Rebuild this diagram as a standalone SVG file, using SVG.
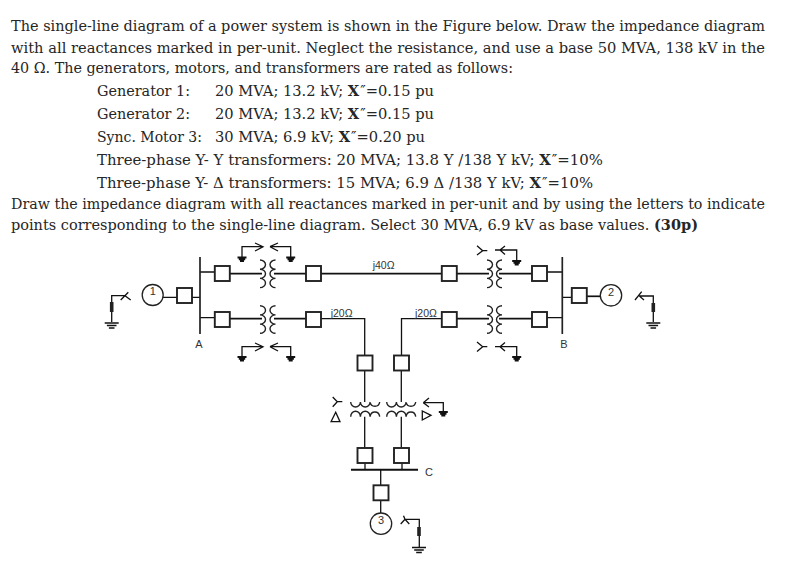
<svg xmlns="http://www.w3.org/2000/svg" width="807" height="565" viewBox="0 0 807 565">
<style>
.t{font-family:"DejaVu Serif","Liberation Serif",serif;font-size:14px;fill:#262626}
.t tspan.b{font-weight:bold}
.l{font-family:"Liberation Sans",Arial,sans-serif;font-size:10.5px;fill:#333}
.n{font-family:"Liberation Sans",Arial,sans-serif;font-size:11px;fill:#333;text-anchor:middle}
.w{fill:none;stroke:#111;stroke-width:1.7}
.s{fill:none;stroke:#111;stroke-width:1.3}
.bx{fill:#fff;stroke:#222;stroke-width:1.9}
.c{fill:#fff;stroke:#222;stroke-width:1.3}
.f{fill:none;stroke:#222;stroke-width:1.4}
.r{stroke:#222;stroke-width:3.6;fill:none}
</style>
<defs>
<rect id="box" class="bx" x="-7.500" y="-7.500" width="15" height="15"/>
<path id="coilL" class="f" d="M0,0a5.500,4.600 0 0 1 0,9.200a5.500,4.600 0 0 1 0,9.200a5.500,4.600 0 0 1 0,9.200"/>
<path id="coilR" class="f" d="M0,0a5.500,4.600 0 0 0 0,9.200a5.500,4.600 0 0 0 0,9.200a5.500,4.600 0 0 0 0,9.200"/>
<path id="coilU" class="f" d="M0,0a4.850,5 0 0 0 9.700,0a4.850,5 0 0 0 9.700,0a4.850,5 0 0 0 9.600,0"/>
<path id="coilD" class="f" d="M0,0a4.850,5.500 0 0 1 9.700,0a4.850,5.500 0 0 1 9.700,0a4.850,5.500 0 0 1 9.600,0"/>
<path id="gnd" d="M-4.500,0.500H4.500M-3.200,2.300H3.200M-2,4.100H2" fill="none" stroke="#111" stroke-width="1.8"/>
<path id="gndBig" d="M-7,0H7M-4.800,2.500H4.800M-2.800,5H2.800" fill="none" stroke="#111" stroke-width="1.7"/>
</defs>
<rect width="807" height="565" fill="#fff"/>

<g id="question-text">
<text class="t" x="11" y="31" textLength="754" lengthAdjust="spacingAndGlyphs">The single-line diagram of a power system is shown in the Figure below. Draw the impedance diagram</text>
<text class="t" x="11" y="52.500" textLength="754" lengthAdjust="spacingAndGlyphs">with all reactances marked in per-unit. Neglect the resistance, and use a base 50 MVA, 138 kV in the</text>
<text class="t" x="11" y="73" textLength="502" lengthAdjust="spacingAndGlyphs">40 Ω. The generators, motors, and transformers are rated as follows:</text>
<text class="t" x="97" y="96" textLength="93" lengthAdjust="spacingAndGlyphs">Generator 1:</text>
<text class="t" x="215" y="96" textLength="219" lengthAdjust="spacingAndGlyphs">20 MVA; 13.2 kV; <tspan class="b">X</tspan><tspan dx="1">″</tspan>=0.15 pu</text>
<text class="t" x="97" y="119" textLength="93" lengthAdjust="spacingAndGlyphs">Generator 2:</text>
<text class="t" x="215" y="119" textLength="219" lengthAdjust="spacingAndGlyphs">20 MVA; 13.2 kV; <tspan class="b">X</tspan><tspan dx="1">″</tspan>=0.15 pu</text>
<text class="t" x="97" y="142" textLength="105" lengthAdjust="spacingAndGlyphs">Sync. Motor 3:</text>
<text class="t" x="215" y="142" textLength="210" lengthAdjust="spacingAndGlyphs">30 MVA; 6.9 kV; <tspan class="b">X</tspan><tspan dx="1">″</tspan>=0.20 pu</text>
<text class="t" x="97" y="165" textLength="506" lengthAdjust="spacingAndGlyphs">Three-phase Y- Y transformers:  20 MVA; 13.8 Y /138 Y kV; <tspan class="b">X</tspan><tspan dx="1">″</tspan>=10%</text>
<text class="t" x="97" y="188" textLength="496" lengthAdjust="spacingAndGlyphs">Three-phase Y- Δ transformers:  15 MVA; 6.9 Δ /138 Y kV; <tspan class="b">X</tspan><tspan dx="1">″</tspan>=10%</text>
<text class="t" x="11" y="209" textLength="754" lengthAdjust="spacingAndGlyphs">Draw the impedance diagram with all reactances marked in per-unit and by using the letters to indicate</text>
<text class="t" x="11" y="230" textLength="687" lengthAdjust="spacingAndGlyphs">points corresponding to the single-line diagram. Select 30 MVA, 6.9 kV as base values. <tspan class="b">(30p)</tspan></text>
</g>

<g id="connectors">
<path class="s" d="M163,297.300H200M200,272H215M200,317.700H215"/>
<path class="w" d="M229.500,273.700H262M274,273.700H306M321,273.700H442M229.500,318.700H262M274,318.700H306"/>
<path class="s" d="M321,318.700H364.700V355"/>
<path class="w" d="M457,273.700H489M499,273.700H532M457,318.700H489M499,318.700H532"/>
<path class="s" d="M401.500,355V318.700H442M547,272H562M547,317.700H562M562,297.300H572"/>
<path class="w" d="M587,296.300H600.500"/>
<path class="s" d="M364.700,371V402M364.700,416.700V447.500M401.300,371V402M401.300,416.700V447.500M365,463.500V470M402,463.500V470M380.700,470V485M380.700,500.700V513"/>
</g>

<g id="bus-A"><path d="M200,257V334" stroke="#222" stroke-width="1.700"/><text class="n" x="199" y="348">A</text></g>
<g id="bus-B"><path d="M562.300,257V334" stroke="#222" stroke-width="1.700"/><text class="n" x="564" y="348">B</text></g>
<g id="bus-C"><path d="M351,469.700H418" stroke="#111" stroke-width="2"/><text class="n" x="429" y="476">C</text></g>

<g id="gen-1">
<circle class="c" cx="152.700" cy="295" r="10.500"/><text class="n" x="152.700" y="295">1</text>
<use href="#box" x="184.500" y="295.500"/>
<path class="s" d="M125,295.700H111.700V322M120.700,300L128.300,292.300M125,295.700L130.700,300"/>
<path class="r" d="M111.700,302V312"/>
<use href="#gndBig" x="111.700" y="323"/>
</g>
<g id="gen-2">
<circle class="c" cx="611" cy="295.300" r="10.700"/><text class="n" x="611" y="295.500">2</text>
<use href="#box" x="579.300" y="295.500"/>
<path class="s" d="M639.300,296H653.300V322M635,300L641.700,291.700M639.300,296L644,300"/>
<path class="r" d="M653.300,303V312"/>
<use href="#gndBig" x="653.300" y="323"/>
</g>
<g id="motor-3">
<circle class="c" cx="381" cy="523.700" r="10.700"/><text class="n" x="381" y="524">3</text>
<use href="#box" x="381" y="492.800"/>
<path class="s" d="M405,519.300H419.300V547M400.700,524L405,519.300L409.300,524M405,519.300L403.500,515.700"/>
<path class="r" d="M419,527V536"/>
<use href="#gndBig" x="419" y="547.500"/>
</g>

<g id="breakers">
<use href="#box" x="222.300" y="273.500"/><use href="#box" x="313.500" y="273.500"/>
<use href="#box" x="222.300" y="319.500"/><use href="#box" x="313.500" y="319.500"/>
<use href="#box" x="449.300" y="273.500"/><use href="#box" x="539.500" y="273.500"/>
<use href="#box" x="449.300" y="319.500"/><use href="#box" x="539.500" y="319.500"/>
<use href="#box" x="365" y="363"/><use href="#box" x="401.500" y="363"/>
<use href="#box" x="365" y="455.500"/><use href="#box" x="401.500" y="455.500"/>
</g>

<g id="transformer-T1">
<use href="#coilL" x="260" y="260"/><use href="#coilR" x="275.500" y="260"/>
<path class="s" d="M263,246.700H242V257M255,243L263,246.700L255,251M270,246.700L278,243M270,246.700L278,251M270,246.700H290.700V257"/>
<use href="#gnd" x="242" y="257"/><use href="#gnd" x="290.700" y="257"/>
</g>
<g id="transformer-T2">
<use href="#coilL" x="260" y="305.700"/><use href="#coilR" x="275.500" y="305.700"/>
<path class="s" d="M263,346.700H242V356M255,343L263,346.700L255,351M270,346.700L278,343M270,346.700L278,351M270,346.700H290.700V356"/>
<use href="#gnd" x="242" y="356.500"/><use href="#gnd" x="290.700" y="356.500"/>
</g>
<g id="transformer-T3">
<use href="#coilL" x="487" y="260"/><use href="#coilR" x="502" y="260"/>
<path class="s" d="M477,245.700L482.700,250.700L477,255M482.700,250.700H487.300M495,250H500M500,250L505,246M500,250L505,254.500M500,250H516.700V260"/>
<use href="#gnd" x="516.700" y="260.500"/>
</g>
<g id="transformer-T4">
<use href="#coilL" x="487" y="305.700"/><use href="#coilR" x="502" y="305.700"/>
<path class="s" d="M477,342L482.700,346.700L477,351.500M482.700,346.700H487.300M495,346.700H500M500,346.700L505,342.500M500,346.700L505,351M500,346.700H516.700V356"/>
<use href="#gnd" x="516.700" y="356.500"/>
</g>
<g id="transformer-T5">
<use href="#coilU" x="350.700" y="402"/><use href="#coilD" x="350.700" y="416.700"/>
<path class="s" d="M332.700,397L337.300,401.700L332.700,406.700M337.300,401.700H342.300M331,421.700L335.700,412.300L340,421.700Z"/>
</g>
<g id="transformer-T6">
<use href="#coilU" x="386.700" y="402"/><use href="#coilD" x="386.700" y="416.700"/>
<path class="s" d="M423.300,402.700L429,398M423.300,402.700L429,407M423.300,402.700H443.300V411M422.300,411V420L431,415.300Z"/>
<use href="#gnd" x="443.300" y="411.500"/>
</g>

<g id="line-labels">
<text class="l" x="372.700" y="269">j40Ω</text>
<text class="l" x="330.700" y="317">j20Ω</text>
<text class="l" x="415" y="317">j20Ω</text>
</g>
</svg>
